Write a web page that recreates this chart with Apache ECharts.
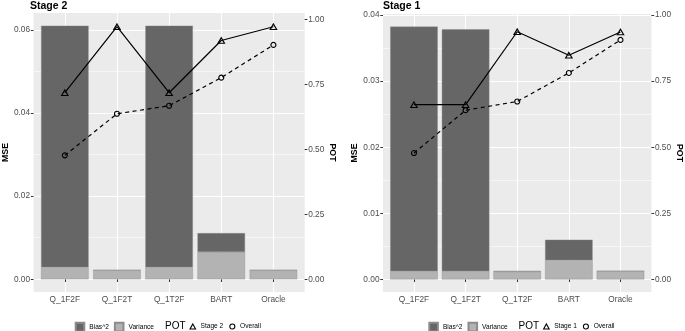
<!DOCTYPE html>
<html><head><meta charset="utf-8">
<script src="https://cdn.jsdelivr.net/npm/echarts@6/dist/echarts.min.js"></script>
<style>html,body{margin:0;padding:0;background:#fff}#c{width:685px;height:331px}</style>
</head><body><div id="c"></div>
<script>
// ---- data ----
const categories = ['Q_1F2F', 'Q_1F2T', 'Q_1T2F', 'BART', 'Oracle'];
// Stage 2 panel
const s2Variance   = [0.0029, 0.0022, 0.0029, 0.0066, 0.0022];
const s2Bias       = [0.0581, 0.0000, 0.0581, 0.0045, 0.0000];
const s2PotStage   = [0.718, 0.972, 0.718, 0.919, 0.972];
const s2PotOverall = [0.477, 0.637, 0.668, 0.776, 0.902];
// Stage 1 panel
const s1Variance   = [0.00125, 0.00125, 0.00118, 0.0029, 0.00125];
const s1Bias       = [0.0370, 0.0366, 0.0001, 0.0031, 0.0000];
const s1PotStage   = [0.661, 0.661, 0.937, 0.848, 0.936];
const s1PotOverall = [0.478, 0.640, 0.673, 0.781, 0.906];
// tick labels
const s2MseTicks = [0, 0.02, 0.04, 0.06];
const s2MseMinor = [0.01, 0.03, 0.05];
const s1MseTicks = [0, 0.01, 0.02, 0.03, 0.04];
const s1MseMinor = [0.005, 0.015, 0.025, 0.035];
const potTicks = [0, 0.25, 0.5, 0.75, 1];

// ---- styling ----
const FONT = "'Liberation Sans', Arial, sans-serif";
const DARK = '#666666', LIGHT = '#B3B3B3', PANEL = '#EBEBEB';
const catIdx = categories.map((c, i) => i + 1);
// [value, categoryPosition] so the value is the first (stackable) dimension
const pairs = (arr) => arr.map((v, i) => [v, catIdx[i]]);

function mseRange(varr, barr) {
  const tot = varr.map((v, i) => v + barr[i]);
  const mx = Math.max(...tot);
  return [-0.05 * mx, 1.05 * mx];
}
const r2 = mseRange(s2Variance, s2Bias);
const r1 = mseRange(s1Variance, s1Bias);
const k2 = 16, k1 = 25; // secondary-axis factor (POT per MSE)

function xAxisFor(g) {
  return {
    type: 'value', gridIndex: g, min: 0.4, max: 5.6,
    axisLine: { show: false },
    axisTick: { show: true, length: 2.7, lineStyle: { color: '#333', width: 1 }, customValues: catIdx },
    axisLabel: { customValues: catIdx, formatter: v => categories[Math.round(v) - 1] || '', color: '#4D4D4D', fontSize: 8.3, fontFamily: FONT, margin: 4 },
    splitLine: { show: true, lineStyle: { color: '#fff', width: 1.1 } }
  };
}
function mseAxis(g, r, ticks) {
  return {
    type: 'value', gridIndex: g, position: 'left', min: r[0], max: r[1],
    name: 'MSE', nameLocation: 'middle', nameRotate: 90, nameGap: 23,
    nameTextStyle: { fontWeight: 'bold', fontSize: 8.8, color: '#000', fontFamily: FONT },
    axisLine: { show: false },
    axisTick: { show: true, length: 2.7, lineStyle: { color: '#333', width: 1 }, customValues: ticks },
    axisLabel: { customValues: ticks, formatter: v => v.toFixed(2), color: '#4D4D4D', fontSize: 8.3, fontFamily: FONT, margin: 3.5 },
    splitLine: { show: true, lineStyle: { color: '#fff', width: 1.1 } }
  };
}
function minorAxis(g, r, ticks) {
  return {
    type: 'value', gridIndex: g, position: 'left', min: r[0], max: r[1],
    axisLine: { show: false }, axisLabel: { show: false },
    axisTick: { show: false, customValues: ticks },
    splitLine: { show: true, lineStyle: { color: '#fff', width: 0.55 } }
  };
}
function potAxis(g, r, k) {
  return {
    type: 'value', gridIndex: g, position: 'right', min: r[0] * k, max: r[1] * k,
    name: 'POT', nameLocation: 'middle', nameRotate: -90, nameGap: 19,
    nameTextStyle: { fontWeight: 'bold', fontSize: 8.8, color: '#000', fontFamily: FONT },
    axisLine: { show: false },
    axisTick: { show: true, length: 2.7, lineStyle: { color: '#333', width: 1 }, customValues: potTicks },
    axisLabel: { customValues: potTicks, formatter: v => v.toFixed(2), color: '#4D4D4D', fontSize: 8.3, fontFamily: FONT, margin: 3.5 },
    splitLine: { show: false }
  };
}
function barSeries(name, data, color, xi, yi, stack) {
  return {
    type: 'bar', name, data: pairs(data), encode: { x: 1, y: 0 }, xAxisIndex: xi, yAxisIndex: yi, stack,
    barWidth: 47.5, itemStyle: { color, borderColor: '#8c8c8c', borderWidth: 0.4 },
    silent: true, z: 2
  };
}
function lineSeries(name, data, dashed, symbol, xi, yi) {
  return {
    type: 'line', name, data: pairs(data), encode: { x: 1, y: 0 }, xAxisIndex: xi, yAxisIndex: yi,
    symbol, symbolSize: symbol === 'triangle' ? [6.5, 5.6] : 5,
    lineStyle: { color: '#000', width: 1.2, type: dashed ? [4, 3.5] : 'solid' },
    itemStyle: { color: 'rgba(0,0,0,0)', borderColor: '#000', borderWidth: 1.1 },
    z: 5, silent: true, animation: false
  };
}
const legText = { fontSize: 6.6, color: '#000', fontFamily: FONT };
const hollow = { color: 'rgba(0,0,0,0)', borderColor: '#000', borderWidth: 1.1 };

const option = {
  animation: false,
  title: [
    { text: 'Stage 2', left: 30, top: 0.5, padding: 0, textStyle: { fontSize: 10.5, fontWeight: 'bold', color: '#000', fontFamily: FONT } },
    { text: 'Stage 1', left: 383, top: 0.5, padding: 0, textStyle: { fontSize: 10.5, fontWeight: 'bold', color: '#000', fontFamily: FONT } }
  ],
  grid: [
    { left: 30, top: 13, width: 274.7, height: 279, show: true, backgroundColor: PANEL, borderWidth: 0 },
    { left: 383, top: 14, width: 274.7, height: 278, show: true, backgroundColor: PANEL, borderWidth: 0 }
  ],
  xAxis: [xAxisFor(0), xAxisFor(1)],
  yAxis: [
    mseAxis(0, r2, s2MseTicks), potAxis(0, r2, k2), minorAxis(0, r2, s2MseMinor),
    mseAxis(1, r1, s1MseTicks), potAxis(1, r1, k1), minorAxis(1, r1, s1MseMinor)
  ],
  legend: [
    { left: 74.7, top: 321.8, padding: 0, itemWidth: 8.6, itemHeight: 8.6, itemGap: 5, icon: 'rect', textStyle: legText, selectedMode: false, data: ['Bias^2', 'Variance'] },
    { left: 189.5, top: 323, padding: 0, itemWidth: 5.5, itemHeight: 5, itemGap: 6, textStyle: legText, selectedMode: false,
      itemStyle: hollow,
      data: [{ name: 'Stage 2', icon: 'triangle', itemStyle: hollow }, { name: 'Overall', icon: 'circle', itemStyle: hollow }] },
    { left: 428.3, top: 321.8, padding: 0, itemWidth: 8.6, itemHeight: 8.6, itemGap: 5, icon: 'rect', textStyle: legText, selectedMode: false, data: ['Bias^2', 'Variance'] },
    { left: 543.1, top: 323, padding: 0, itemWidth: 5.5, itemHeight: 5, itemGap: 6, textStyle: legText, selectedMode: false,
      itemStyle: hollow,
      data: [{ name: 'Stage 1', icon: 'triangle', itemStyle: hollow }, { name: 'Overall', icon: 'circle', itemStyle: hollow }] }
  ],
  graphic: [
    { type: 'text', left: 165, top: 321, style: { text: 'POT', fontSize: 10, fontFamily: FONT, fill: '#000' } },
    { type: 'text', left: 518.5, top: 321, style: { text: 'POT', fontSize: 10, fontFamily: FONT, fill: '#000' } }
  ],
  series: [
    barSeries('Variance', s2Variance, LIGHT, 0, 0, 's2'),
    barSeries('Bias^2', s2Bias, DARK, 0, 0, 's2'),
    lineSeries('Stage 2', s2PotStage, false, 'triangle', 0, 1),
    lineSeries('Overall', s2PotOverall, true, 'circle', 0, 1),
    barSeries('Variance', s1Variance, LIGHT, 1, 3, 's1'),
    barSeries('Bias^2', s1Bias, DARK, 1, 3, 's1'),
    lineSeries('Stage 1', s1PotStage, false, 'triangle', 1, 4),
    lineSeries('Overall', s1PotOverall, true, 'circle', 1, 4)
  ]
};
const chart = echarts.init(document.getElementById('c'), null, { renderer: 'canvas' });
chart.setOption(option);
</script></body></html>
